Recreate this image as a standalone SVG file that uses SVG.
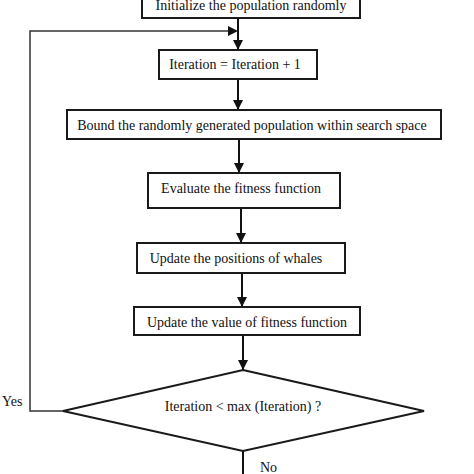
<svg xmlns="http://www.w3.org/2000/svg" width="474" height="474" viewBox="0 0 474 474">
<style>
.box{fill:#fff;stroke:#1a1a1a;stroke-width:2}
.t{font-family:"Liberation Serif","Times New Roman",serif;font-size:14px;fill:#111;text-anchor:middle;dominant-baseline:central}
.l{font-family:"Liberation Serif","Times New Roman",serif;font-size:14px;fill:#111}
.c{fill:none;stroke:#111;stroke-width:2}
.f{fill:none;stroke:#333;stroke-width:1.5}
</style>
<defs>
<marker id="ah" viewBox="0 0 10 10" refX="10" refY="5" markerWidth="5" markerHeight="5" orient="auto" markerUnits="strokeWidth">
<path d="M0,0L10,5L0,10z" fill="#111"/>
</marker>
</defs>
<rect width="474" height="474" fill="#fff"/>
<g id="connectors">
<line class="c" x1="238" y1="18" x2="238" y2="50" marker-end="url(#ah)"/>
<line class="c" x1="238" y1="79" x2="238" y2="110" marker-end="url(#ah)"/>
<line class="c" x1="239" y1="139" x2="239" y2="173" marker-end="url(#ah)"/>
<line class="c" x1="241" y1="208" x2="241" y2="243" marker-end="url(#ah)"/>
<line class="c" x1="242" y1="273" x2="242" y2="307" marker-end="url(#ah)"/>
<line class="c" x1="243" y1="335" x2="243" y2="370" marker-end="url(#ah)"/>
<polyline class="f" points="63,411 30,411 30,31 228,31"/>
<path d="M228,26L238,31L228,36z" fill="#111"/>
<line class="c" x1="243" y1="451" x2="243" y2="480"/>
<text class="l" x="2" y="406">Yes</text>
<text class="l" x="260" y="472">No</text>
</g>
<g id="n1"><rect class="box" x="142" y="-14" width="218" height="32"/><text class="t" x="251" y="5">Initialize the population randomly</text></g>
<g id="n2"><rect class="box" x="159" y="50" width="158" height="29"/><text class="t" x="235" y="64">Iteration = Iteration + 1</text></g>
<g id="n3"><rect class="box" x="67" y="110" width="374" height="29"/><text class="t" x="252" y="125">Bound the randomly generated population within search space</text></g>
<g id="n4"><rect class="box" x="148" y="173" width="192" height="35"/><text class="t" x="241" y="188">Evaluate the fitness function</text></g>
<g id="n5"><rect class="box" x="137" y="243" width="208" height="30"/><text class="t" x="236" y="258">Update the positions of whales</text></g>
<g id="n6"><rect class="box" x="134" y="307" width="226" height="28"/><text class="t" x="247" y="322">Update the value of fitness function</text></g>
<g id="n7"><polygon class="box" points="243,370 424,411 243,451 63,411"/><text class="t" x="243" y="406">Iteration &lt; max (Iteration) ?</text></g>
</svg>
